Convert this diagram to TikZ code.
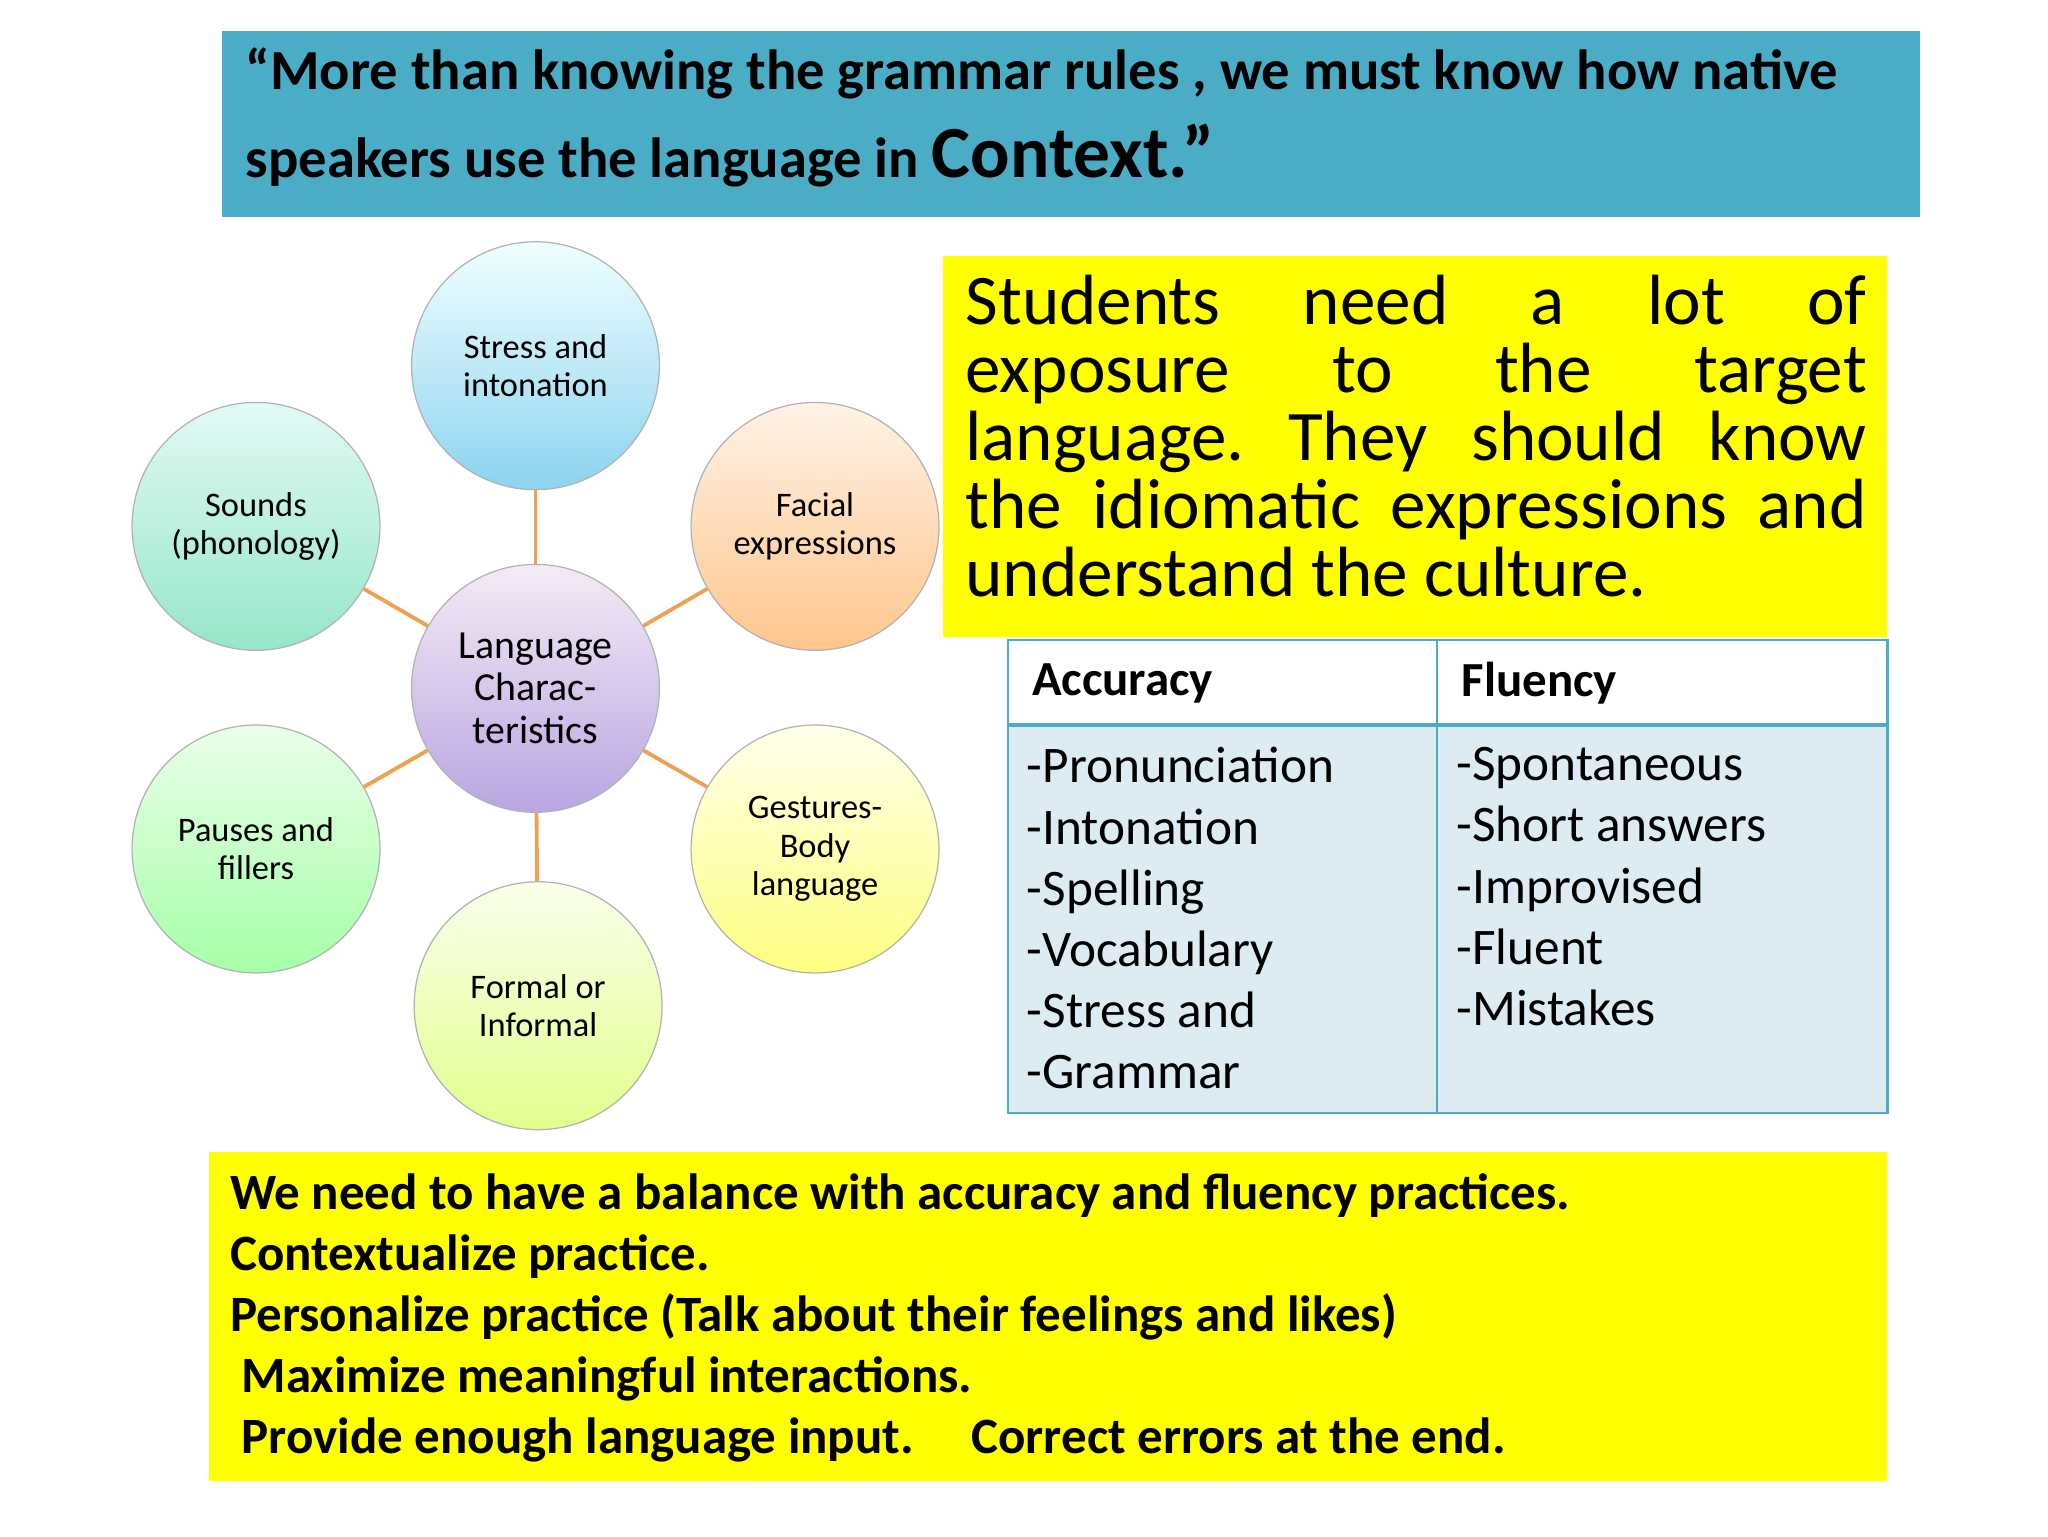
\documentclass[tikz,border=0pt]{standalone}
\usepackage{fontspec}
\setmainfont{Carlito}
\usetikzlibrary{positioning}
\definecolor{tblue}{HTML}{4BACC6}
\definecolor{ylw}{HTML}{FFFF00}
\definecolor{cellb}{HTML}{DDEBF2}
\definecolor{lnk}{HTML}{F0A050}
\tikzset{
 bub/.style={circle,minimum size=162pt,draw=gray!60,line width=0.8pt,align=center,font=\fontsize{22.5}{25}\selectfont},
 lnkline/.style={lnk,line width=2.5pt},
 hdr/.style={font=\bfseries\fontsize{32}{36}\selectfont,anchor=west},
 cell/.style={font=\fontsize{33.5}{40}\selectfont,anchor=north west,align=left}
}
\newcommand{\jl}[1]{\makebox[690\dimexpr 0.03cm\relax][s]{#1}}
\begin{document}
\begin{tikzpicture}[x=0.03cm,y=-0.03cm]
\useasboundingbox (0,0) rectangle (1568,1176);
\fill[white] (0,0) rectangle (1568,1176);
% title
\fill[tblue] (170,24) rectangle (1470,166);
\node[anchor=north west,align=left,font=\bfseries\fontsize{37}{58}\selectfont,inner sep=0] (title) at (188,36)
 {“More than knowing the grammar rules , we must know how native\\speakers use the language in {\fontsize{48}{50}\selectfont Context.”}};
% bubbles
\node[bub,top color=violet!8,bottom color={rgb,255:red,185;green,165;blue,225},font=\fontsize{26}{28}\selectfont] (c) at (410,527) {Language\\Charac-\\teristics};
\node[bub,top color=cyan!6,bottom color={rgb,255:red,140;green,212;blue,240}] (n1) at (410,280) {Stress and\\intonation};
\node[bub,top color=orange!10,bottom color=orange!45] (n2) at (624,403) {Facial\\expressions};
\node[bub,top color=yellow!8,bottom color=yellow!50] (n3) at (624,650) {Gestures-\\Body\\language};
\node[bub,top color=lime!8,bottom color=lime!45] (n4) at (412,770) {Formal or\\Informal};
\node[bub,top color=green!8,bottom color=green!35] (n5) at (196,650) {Pauses and\\fillers};
\node[bub,top color={rgb,255:red,225;green,250;blue,245},bottom color={rgb,255:red,150;green,230;blue,200}] (n6) at (196,403) {Sounds\\(phonology)};
\foreach \n in {n1,n2,n3,n4,n5,n6} \draw[lnkline] (c) -- (\n);
% yellow text box
\fill[ylw] (722,196) rectangle (1445,488);
\node[anchor=north west,align=left,inner sep=0,font=\fontsize{46.5}{44.5}\selectfont] (need) at (739,210)
 {\jl{Students\hfill need\hfill a\hfill lot\hfill of}\\\jl{exposure\hfill to\hfill the\hfill target}\\\jl{language.\hfill They\hfill should\hfill know}\\\jl{the\hfill idiomatic\hfill expressions\hfill and}\\understand the culture.};
% table
\fill[white] (772,490) rectangle (1445,555);
\fill[cellb] (772,555) rectangle (1445,852);
\draw[tblue,line width=1.5pt] (772,490) rectangle (1445,852);
\draw[tblue,line width=1.5pt] (1100,490) -- (1100,852);
\draw[tblue,line width=3pt] (772,555) -- (1445,555);
\node[hdr] (h1) at (786,523) {Accuracy};
\node[hdr] (h2) at (1115,523) {Fluency};
\node[cell,inner sep=0] (a) at (786,572) {-Pronunciation\\-Intonation\\-Spelling\\-Vocabulary\\-Stress and\\-Grammar};
\node[cell,inner sep=0] (b) at (1115,572) {-Spontaneous\\-Short answers\\-Improvised\\-Fluent\\-Mistakes};
% bottom box
\fill[ylw] (160,882) rectangle (1445,1134);
\node[anchor=north west,align=left,inner sep=0,font=\bfseries\fontsize{33.3}{40}\selectfont] (bot) at (176,898)
 {We need to have a balance with accuracy and fluency practices.\\Contextualize practice.\\Personalize practice (Talk about their feelings and likes)\\\ Maximize meaningful interactions.\\\ Provide enough language input.\ \ \ \ \ Correct errors at the end.};
\end{tikzpicture}
\end{document}
